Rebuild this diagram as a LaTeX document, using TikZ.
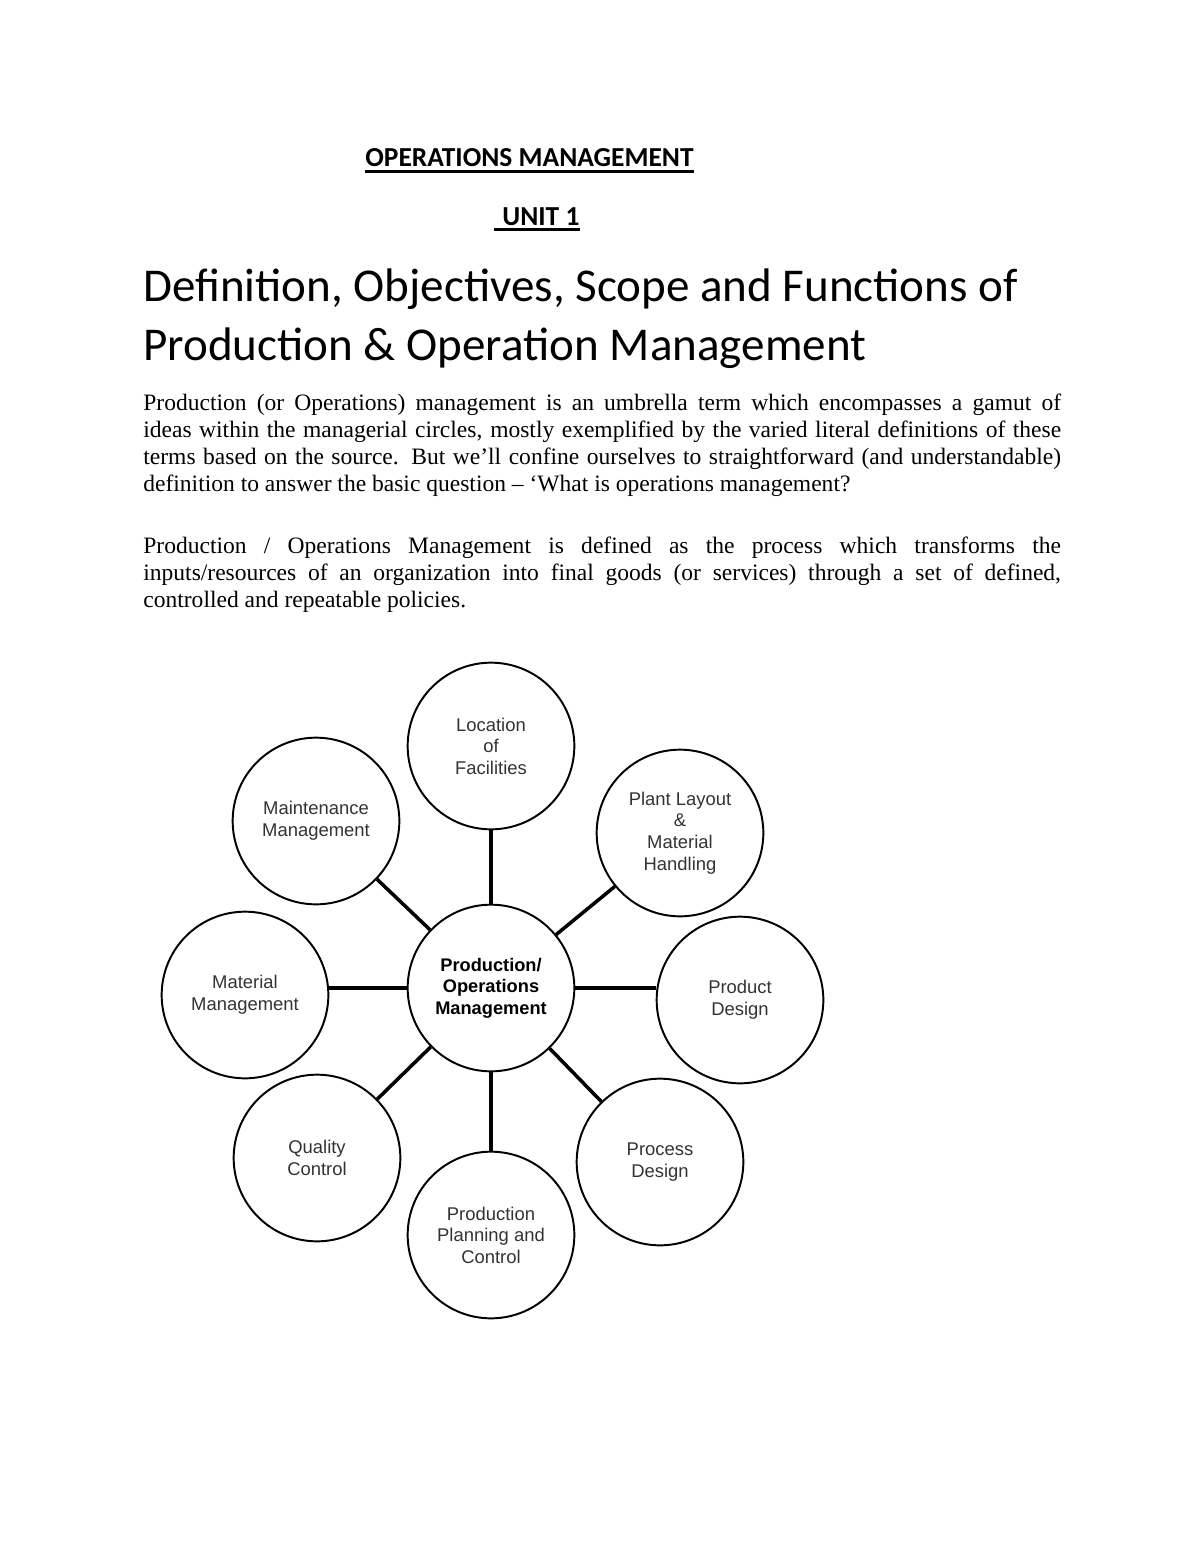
\documentclass[tikz,border=0pt]{standalone}
\usepackage{fontspec}
\setmainfont{Liberation Serif}
\setsansfont{Liberation Sans}
\newfontfamily\calibri{Carlito}
\usepackage{tikz}
\tikzset{
  titletext/.style={inner sep=0pt, font=\calibri\bfseries\fontsize{14}{16}\selectfont},
  headtext/.style={inner sep=0pt, align=left, font=\calibri\fontsize{24}{29.6}\selectfont},
  bodytext/.style={inner sep=0pt, text width=468pt, align=justify, font=\fontsize{12}{13.9}\selectfont},
  uline/.style={line width=1.3pt, black},
  bubble/.style={circle, draw=black, line width=1pt, minimum size=85pt, inner sep=0pt, align=center, text=black!80, font=\sffamily\fontsize{9.4}{11}\selectfont},
  hub/.style={bubble, text=black, font=\sffamily\bfseries\fontsize{9.3}{11}\selectfont},
  spoke/.style={line width=1.8pt, black},
}

\begin{document}
\begin{tikzpicture}[x=0.51pt, y=-0.51pt]
\useasboundingbox (0,0) rectangle (1200,1553);
\node[titletext, anchor=base west] (ttl) at (365,167) {OPERATIONS MANAGEMENT};
\draw[uline] ([yshift=-2.4pt]ttl.base west) -- ([yshift=-2.4pt]ttl.base east);
\node[titletext, anchor=base west] (unit) at (502,225) {UNIT 1};
\draw[uline] ([xshift=-4pt, yshift=-2.2pt]unit.base west) -- ([yshift=-2.2pt]unit.base east);
\node[headtext, anchor=base west] (head) at (143,360) {Definition, Objectives, Scope and Functions of\\Production \& Operation Management};
\node[bodytext, anchor=base west] (para1) at (143,410) {\hyphenpenalty=10000
  Production (or Operations) management is an umbrella term which encompasses a gamut of\linebreak
  ideas within the managerial circles, mostly exemplified by the varied literal definitions of these\linebreak
  terms based on the source. But we’ll confine ourselves to straightforward (and understandable)\linebreak
  definition to answer the basic question – ‘What is operations management?};
\node[bodytext, anchor=base west] (para2) at (143,553) {\hyphenpenalty=10000
  Production / Operations Management is defined as the process which transforms the\linebreak
  inputs/resources of an organization into final goods (or services) through a set of defined,\linebreak
  controlled and repeatable policies.};
% the chart
\node[hub] (ctr) at (491,988) {Production/\\Operations\\Management};
\node[bubble] (loc) at (491,746) {Location\\of\\Facilities};
\node[bubble] (plant) at (680,833) {Plant Layout\\\&\\Material\\Handling};
\node[bubble] (prod) at (740,1000) {Product\\Design};
\node[bubble] (proc) at (660,1162) {Process\\Design};
\node[bubble] (ppc) at (491,1235) {Production\\Planning and\\Control};
\node[bubble] (qc) at (317,1158) {Quality\\Control};
\node[bubble] (matl) at (245,995) {Material\\Management};
\node[bubble] (maint) at (316,821) {Maintenance\\Management};
\foreach \outer in {loc,plant,proc,ppc,qc,maint}
  \draw[spoke] (ctr) -- (\outer);
\draw[spoke] (ctr.east) -- (prod.west |- ctr.east);
\draw[spoke] (ctr.west) -- (matl.east |- ctr.west);
\end{tikzpicture}
\end{document}
